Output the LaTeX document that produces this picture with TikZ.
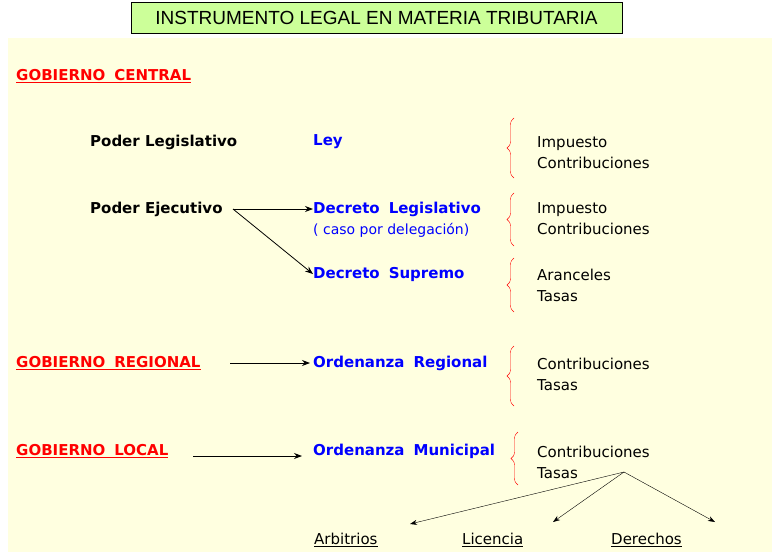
\documentclass[tikz,border=0pt]{standalone}
\usepackage{fontspec}
\setmainfont{DejaVu Sans}
\newfontfamily\titlefont{Liberation Sans}
\usetikzlibrary{decorations.pathreplacing,arrows.meta}
\definecolor{bgy}{HTML}{FFFFE0}
\definecolor{titleg}{HTML}{CCFF99}
\definecolor{redt}{HTML}{FF0000}
\definecolor{bluet}{HTML}{0000FF}
\newcommand{\wsp}{\hspace{0.6em}}
\tikzset{
 x=1pt,y=-1pt,
 lab/.style={anchor=west,inner sep=0pt,font=\fontsize{15}{21}\selectfont\bfseries},
 gov/.style={lab,text=redt},
 inst/.style={lab,text=bluet},
 tax/.style={anchor=west,inner sep=0pt,font=\fontsize{15}{21}\selectfont,align=left},
 arr/.style={-{Stealth[length=8pt,width=6pt]},thick},
 arr2/.style={-{Stealth[length=7pt,width=5pt]}},
 br/.style={redt,decorate,decoration={brace,amplitude=7pt}},
}
\begin{document}
\begin{tikzpicture}
\useasboundingbox (0,0) rectangle (772,552);
\fill[white] (0,0) rectangle (772,552);
\fill[bgy] (8,38) rectangle (772,552);
\node[draw=black,fill=titleg,minimum width=491pt,minimum height=31pt,inner sep=0pt,font=\titlefont\fontsize{19}{21}\selectfont] (title) at (376.5,17.5) {INSTRUMENTO LEGAL EN MATERIA TRIBUTARIA};

\node[gov] (gc) at (16,76) {\underline{GOBIERNO\wsp CENTRAL}};
\node[lab] (pl) at (90,142) {Poder Legislativo};
\node[inst] (ley) at (313,142) {Ley};
\node[tax] (t1) at (537,153) {Impuesto\\Contribuciones};

\node[lab] (pe) at (90,209) {Poder Ejecutivo};
\node[inst] (dl) at (313,209) {Decreto\wsp Legislativo};
\node[anchor=west,inner sep=0pt,text=bluet,font=\fontsize{14}{16}\selectfont] (cd) at (313,230) {( caso por delegación)};
\node[tax] (t2) at (537,219) {Impuesto\\Contribuciones};
\node[inst] (ds) at (313,274) {Decreto\wsp Supremo};
\node[tax] (t3) at (537,285) {Aranceles\\Tasas};

\node[gov] (gr) at (16,363) {\underline{GOBIERNO\wsp REGIONAL}};
\node[inst] (or) at (313,363) {Ordenanza\wsp Regional};
\node[tax] (t4) at (537,374) {Contribuciones\\Tasas};

\node[gov] (gl) at (16,451) {\underline{GOBIERNO\wsp LOCAL}};
\node[inst] (om) at (313,451) {Ordenanza\wsp Municipal};
\node[tax] (t5) at (537,462) {Contribuciones\\Tasas};

\node[tax] (arb) at (314,540) {\underline{Arbitrios}};
\node[tax] (lic) at (462,540) {\underline{Licencia}};
\node[tax] (der) at (611,540) {\underline{Derechos}};

\draw[br] (514,178) -- (514,118);
\draw[br] (514,246) -- (514,193);
\draw[br] (514,312) -- (514,258);
\draw[br] (514,406) -- (514,346);
\draw[br] (518,485) -- (518,432);

\coordinate (pa) at (233,209);
\draw[arr] (pa) -- (dl.west);
\draw[arr] (pa) -- (ds.west);
\coordinate (ra) at (230,363);
\draw[arr] (ra) -- ([xshift=-3pt]or.west);
\coordinate (la) at (193,456);
\draw[arr] (la) -- (302,456);
\coordinate (tt) at (624,472);
\draw[arr2] (tt) -- (410,524);
\draw[arr2] (tt) -- (553,522);
\draw[arr2] (tt) -- (715,522);
\end{tikzpicture}
\end{document}
